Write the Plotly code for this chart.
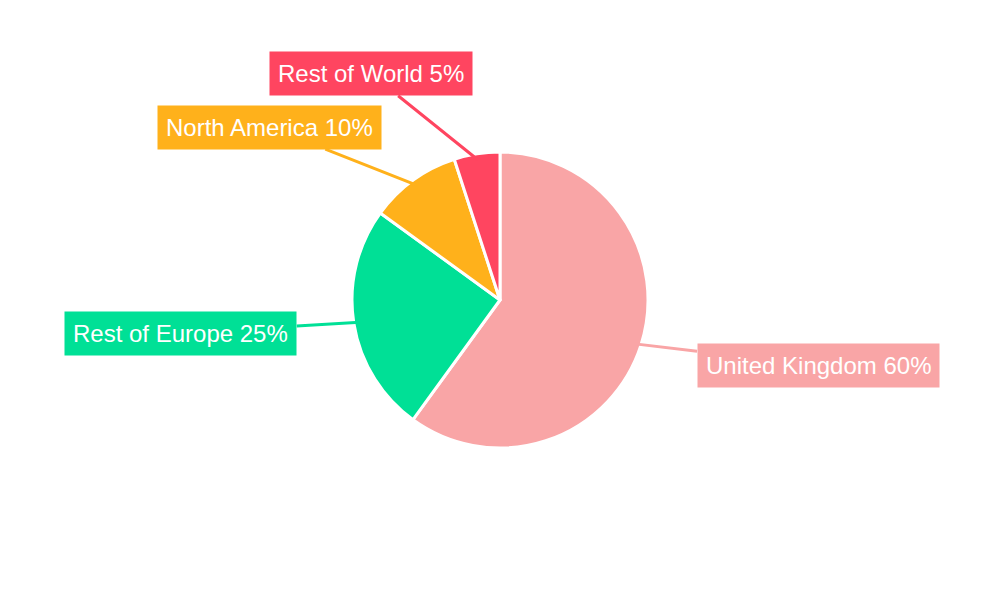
import math

import plotly.graph_objects as go

regions = ["United Kingdom", "Rest of Europe", "North America", "Rest of World"]
shares = [60, 25, 10, 5]
colors = ["#F9A5A6", "#00E096", "#FFB11B", "#FF4560"]
# label box offsets from the slice edge, in pixels (dx, dy downward)
offsets = [(183, 22), (-179, 11), (-147, -58), (-107, -86)]

W, H, R = 1000, 600, 148
CX, CY = 492, 292  # pie centre in figure pixels (page body adds 8px)

fig = go.Figure(
    go.Pie(
        labels=regions,
        values=shares,
        sort=False,
        direction="clockwise",
        rotation=0,
        marker=dict(colors=colors, line=dict(color="white", width=3)),
        textinfo="none",
        hoverinfo="label+percent",
        domain=dict(
            x=[(CX - R) / W, (CX + R) / W],
            y=[(H - CY - R) / H, (H - CY + R) / H],
        ),
    )
)

total = sum(shares)
cum = 0
for name, val, col, (dx, dy) in zip(regions, shares, colors, offsets):
    mid = (cum + val / 2) / total * 2 * math.pi
    cum += val
    tip_x = (CX + (R - 6) * math.sin(mid)) / W
    tip_y = (H - CY + (R - 6) * math.cos(mid)) / H
    fig.add_annotation(
        x=tip_x, y=tip_y, xref="paper", yref="paper",
        ax=dx, ay=dy,
        text=f"{name} {val}%",
        showarrow=True, arrowhead=0, arrowwidth=3, arrowcolor=col,
        bgcolor=col, borderpad=8,
        font=dict(family="Liberation Sans, Arial", size=24, color="white"),
    )

fig.update_layout(
    width=W, height=H,
    margin=dict(l=0, r=0, t=0, b=0),
    showlegend=False,
    paper_bgcolor="white",
)
fig.write_html("out.html")
